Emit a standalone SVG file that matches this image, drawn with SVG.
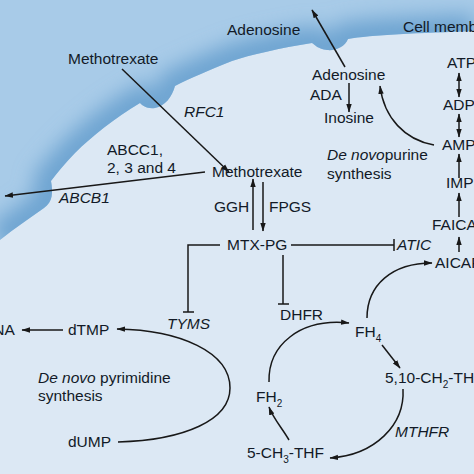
<svg xmlns="http://www.w3.org/2000/svg" width="474" height="474" viewBox="0 0 474 474">
<defs>
<style>
text{font-family:"Liberation Sans",Arial,sans-serif;font-size:15.5px;fill:#121a27}
.i{font-style:italic}
.s{font-size:10px}
.c{fill:none;stroke:#181818;stroke-width:1.5}
.a{marker-end:url(#ah)}
.d{marker-start:url(#ah);marker-end:url(#ah)}
</style>
<marker id="ah" markerUnits="userSpaceOnUse" markerWidth="9" markerHeight="7" refX="8" refY="3.5" orient="auto-start-reverse">
<path d="M0,0.8 L8.5,3.5 L0,6.2 z" fill="#181818"/>
</marker>
<clipPath id="ext">
<path d="M0,0 L474,0 L474,31 C420,33 370,35 348,39 C345,47 335,51 327,50 C318,49 315,45 312,43 C280,48 250,55 232,61 C210,70 190,78 175,86 C172,97 165,106 155,108 C147,109 143,106 140,103 C115,118 92,136 75,153 C66,162 58,172 51,181 C53,192 53,202 44,208 C30,218 15,228 0,240 Z"/>
</clipPath>
<filter id="bl" x="-20%" y="-20%" width="140%" height="140%"><feGaussianBlur stdDeviation="10"/></filter>
</defs>
<rect width="474" height="474" fill="#dce8f4"/>
<g id="membrane">
<path d="M0,0 L474,0 L474,31 C420,33 370,35 348,39 C345,47 335,51 327,50 C318,49 315,45 312,43 C280,48 250,55 232,61 C210,70 190,78 175,86 C172,97 165,106 155,108 C147,109 143,106 140,103 C115,118 92,136 75,153 C66,162 58,172 51,181 C53,192 53,202 44,208 C30,218 15,228 0,240 Z" fill="#a8cbe8"/>
<g clip-path="url(#ext)">
<path d="M474,31 C420,33 370,35 348,39 C345,47 335,51 327,50 C318,49 315,45 312,43 C280,48 250,55 232,61 C210,70 190,78 175,86 C172,97 165,106 155,108 C147,109 143,106 140,103 C115,118 92,136 75,153 C66,162 58,172 51,181 C53,192 53,202 44,208 C30,218 15,228 0,240" fill="none" stroke="#6ea4d1" stroke-width="34" filter="url(#bl)"/>
</g>
</g>
<g id="connectors">
<line class="c a" x1="122" y1="69" x2="229" y2="172"/>
<line class="c a" x1="205" y1="172" x2="5" y2="196"/>
<line class="c a" x1="253" y1="230" x2="253" y2="179"/>
<line class="c a" x1="263" y1="182" x2="263" y2="231"/>
<polyline class="c" points="220,245 188,245 188,312"/>
<line class="c" x1="183" y1="312" x2="194" y2="312"/>
<line class="c" x1="283" y1="255" x2="283" y2="304"/>
<line class="c" x1="278" y1="304" x2="289" y2="304"/>
<line class="c" x1="291" y1="245" x2="394" y2="245"/>
<line class="c" x1="394" y1="239" x2="394" y2="251"/>
<path class="c a" d="M367,318 C367,285 392,263 432,263"/>
<line class="c a" x1="459" y1="252" x2="459" y2="237"/>
<line class="c a" x1="459" y1="217" x2="459" y2="193"/>
<line class="c a" x1="459" y1="178" x2="459" y2="154"/>
<line class="c d" x1="459" y1="137" x2="459" y2="114"/>
<line class="c d" x1="459" y1="97" x2="459" y2="73"/>
<path class="c a" d="M434,145 C405,140 384,118 380,86"/>
<line class="c a" x1="345" y1="67" x2="312" y2="10"/>
<line class="c a" x1="349" y1="83" x2="349" y2="112"/>
<line class="c a" x1="63" y1="330" x2="22" y2="330"/>
<path class="c a" d="M118,442 C185,440 230,420 230,388 C230,352 180,330 117,329"/>
<path class="c a" d="M269,382 C268,345 300,318 349,323"/>
<line class="c a" x1="382" y1="345" x2="400" y2="368"/>
<path class="c a" d="M403,389 C405,425 375,455 330,458"/>
<path class="c a" d="M289,440 C282,428 273,418 269,407"/>
</g>
<g id="n-adenosine-out"><text x="227" y="35">Adenosine</text></g>
<g id="n-cellmembrane"><text x="403" y="32">Cell membrane</text></g>
<g id="n-mtx-out"><text x="68" y="64">Methotrexate</text></g>
<g id="n-rfc1"><text class="i" x="184" y="117">RFC1</text></g>
<g id="n-abcc"><text x="107" y="155">ABCC1,</text><text x="107" y="173">2, 3 and 4</text></g>
<g id="n-mtx-in"><text x="212" y="177">Methotrexate</text></g>
<g id="n-abcb1"><text class="i" x="59" y="203">ABCB1</text></g>
<g id="n-ggh"><text x="214" y="212">GGH</text></g>
<g id="n-fpgs"><text x="269" y="212">FPGS</text></g>
<g id="n-mtxpg"><text x="227" y="250">MTX-PG</text></g>
<g id="n-atic"><text class="i" x="397" y="250">ATIC</text></g>
<g id="n-tyms"><text class="i" x="167" y="329">TYMS</text></g>
<g id="n-dhfr"><text x="280" y="320">DHFR</text></g>
<g id="n-adenosine-in"><text x="312" y="80">Adenosine</text></g>
<g id="n-ada"><text x="310" y="100">ADA</text></g>
<g id="n-inosine"><text x="324" y="123">Inosine</text></g>
<g id="n-purine"><text x="327" y="160"><tspan class="i">De novo</tspan>purine</text><text x="327" y="179">synthesis</text></g>
<g id="n-atp"><text x="447" y="68">ATP</text></g>
<g id="n-adp"><text x="443" y="110">ADP</text></g>
<g id="n-amp"><text x="442" y="150">AMP</text></g>
<g id="n-imp"><text x="446" y="188">IMP</text></g>
<g id="n-faicar"><text x="432" y="230">FAICAR</text></g>
<g id="n-aicar"><text x="435" y="268">AICAR</text></g>
<g id="n-dna"><text x="-18" y="335">DNA</text></g>
<g id="n-dtmp"><text x="68" y="335">dTMP</text></g>
<g id="n-pyrimidine"><text x="38" y="383"><tspan class="i">De novo</tspan> pyrimidine</text><text x="38" y="401">synthesis</text></g>
<g id="n-dump"><text x="68" y="447">dUMP</text></g>
<g id="n-fh4"><text x="355" y="337">FH<tspan class="s" dy="5">4</tspan></text></g>
<g id="n-ch2thf"><text x="385" y="383">5,10-CH<tspan class="s" dy="5">2</tspan><tspan dy="-5">-THF</tspan></text></g>
<g id="n-mthfr"><text class="i" x="395" y="437">MTHFR</text></g>
<g id="n-ch3thf"><text x="247" y="458">5-CH<tspan class="s" dy="5">3</tspan><tspan dy="-5">-THF</tspan></text></g>
<g id="n-fh2"><text x="256" y="402">FH<tspan class="s" dy="5">2</tspan></text></g>
</svg>
